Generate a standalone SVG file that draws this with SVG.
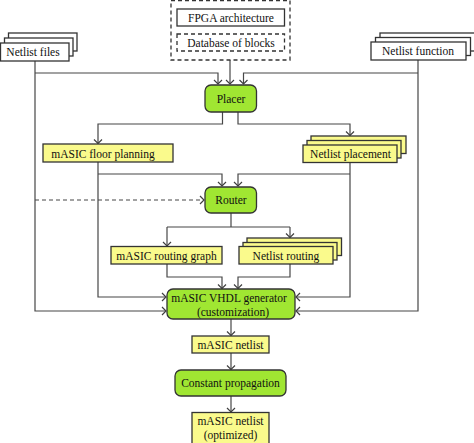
<svg xmlns="http://www.w3.org/2000/svg" width="474" height="443" viewBox="0 0 474 443">
<style>
text{font-family:"Liberation Serif","Times New Roman",serif;font-size:11.5px;fill:#111;text-anchor:middle}
.g{fill:#a0e632;stroke:#333;stroke-width:1.3}
.y{fill:#fafa8c;stroke:#333;stroke-width:1.3}
.w{fill:#fff;stroke:#333;stroke-width:1.3}
.c{fill:none;stroke:#474747;stroke-width:1.2}
.d{stroke-dasharray:4 3}
</style>
<defs>
<marker id="a" markerUnits="userSpaceOnUse" markerWidth="10" markerHeight="10" refX="5" refY="5" orient="auto">
<path d="M1,1 L5,5 L1,9" fill="none" stroke="#404040" stroke-width="1.2"/>
</marker>
</defs>
<g id="connectors">
<path class="c" d="M35,61 V311 H166" marker-end="url(#a)"/>
<path class="c" d="M35,73 H218 V84" marker-end="url(#a)"/>
<path class="c" d="M418,60 V311 H296" marker-end="url(#a)"/>
<path class="c" d="M418,73 H243.5 V84" marker-end="url(#a)"/>
<path class="c" d="M230,60 V84" marker-end="url(#a)"/>
<path class="c" d="M222.5,112 V124 H98 V143.5" marker-end="url(#a)"/>
<path class="c" d="M238,112 V124 H350 V135.5" marker-end="url(#a)"/>
<path class="c" d="M98,162 V297 H166" marker-end="url(#a)"/>
<path class="c" d="M98,174 H222 V186" marker-end="url(#a)"/>
<path class="c" d="M350,162 V297 H296" marker-end="url(#a)"/>
<path class="c" d="M350,174 H238 V186" marker-end="url(#a)"/>
<path class="c d" d="M35,200 H204" marker-end="url(#a)"/>
<path class="c" d="M231,213 V227 M167,227 H290"/>
<path class="c" d="M167,227 V246" marker-end="url(#a)"/>
<path class="c" d="M290,227 V237.5" marker-end="url(#a)"/>
<path class="c" d="M167,264 V277 H222 V288.5" marker-end="url(#a)"/>
<path class="c" d="M290,264 V277 H238 V288.5" marker-end="url(#a)"/>
<path class="c" d="M231,319 V335.5" marker-end="url(#a)"/>
<path class="c" d="M231,353 V369.5" marker-end="url(#a)"/>
<path class="c" d="M231,396 V412" marker-end="url(#a)"/>
</g>
<g id="fpga-group">
<rect class="w d" x="171" y="0.5" width="119" height="59.5" fill="none"/>
</g>
<g id="fpga-architecture">
<rect class="w" x="177" y="9" width="107.5" height="17"/>
<text x="231" y="21.5">FPGA architecture</text>
</g>
<g id="database-of-blocks">
<rect class="w d" x="177" y="34" width="107.5" height="17"/>
<text x="231" y="46.5">Database of blocks</text>
</g>
<g id="netlist-files">
<rect class="w" x="8.5" y="33" width="68.5" height="18"/>
<rect class="w" x="4.5" y="38" width="68.5" height="18"/>
<rect class="w" x="0.5" y="43" width="68.5" height="18"/>
<text x="33" y="56">Netlist files</text>
</g>
<g id="netlist-function">
<rect class="w" x="380" y="33" width="95" height="18"/>
<rect class="w" x="375.5" y="37.5" width="95" height="18"/>
<rect class="w" x="371" y="42" width="95" height="18"/>
<text x="418" y="55">Netlist function</text>
</g>
<g id="placer">
<rect class="g" x="205" y="85" width="51.5" height="27" rx="6"/>
<text x="231" y="102.5">Placer</text>
</g>
<g id="floor-planning">
<rect class="y" x="43" y="144" width="130" height="18"/>
<text x="103" y="157.5">mASIC floor planning</text>
</g>
<g id="netlist-placement">
<rect class="y" x="311" y="136" width="95" height="17.5"/>
<rect class="y" x="307" y="140.5" width="94" height="17.5"/>
<rect class="y" x="303" y="145" width="94" height="17.5"/>
<text x="350.5" y="158">Netlist placement</text>
</g>
<g id="router">
<rect class="g" x="205" y="187" width="51.5" height="26" rx="6"/>
<text x="231" y="204">Router</text>
</g>
<g id="routing-graph">
<rect class="y" x="111" y="246.5" width="111" height="17.5"/>
<text x="166.5" y="259.5">mASIC routing graph</text>
</g>
<g id="netlist-routing">
<rect class="y" x="247" y="238" width="94.5" height="17.5"/>
<rect class="y" x="243" y="242.5" width="94" height="17.5"/>
<rect class="y" x="239" y="246.5" width="94" height="17.5"/>
<text x="286" y="259.5">Netlist routing</text>
</g>
<g id="vhdl-generator">
<rect class="g" x="167" y="289" width="128" height="30" rx="6"/>
<text x="229" y="302">mASIC VHDL generator</text>
<text x="233" y="315.5">(customization)</text>
</g>
<g id="masic-netlist">
<rect class="y" x="192" y="336" width="77" height="17"/>
<text x="230.5" y="348.5">mASIC netlist</text>
</g>
<g id="constant-propagation">
<rect class="g" x="175" y="370" width="111" height="26" rx="6"/>
<text x="230.5" y="387">Constant propagation</text>
</g>
<g id="masic-netlist-optimized">
<rect class="y" x="192" y="412.5" width="77" height="32"/>
<text x="230.5" y="425">mASIC netlist</text>
<text x="230.5" y="438.5">(optimized)</text>
</g>
</svg>
